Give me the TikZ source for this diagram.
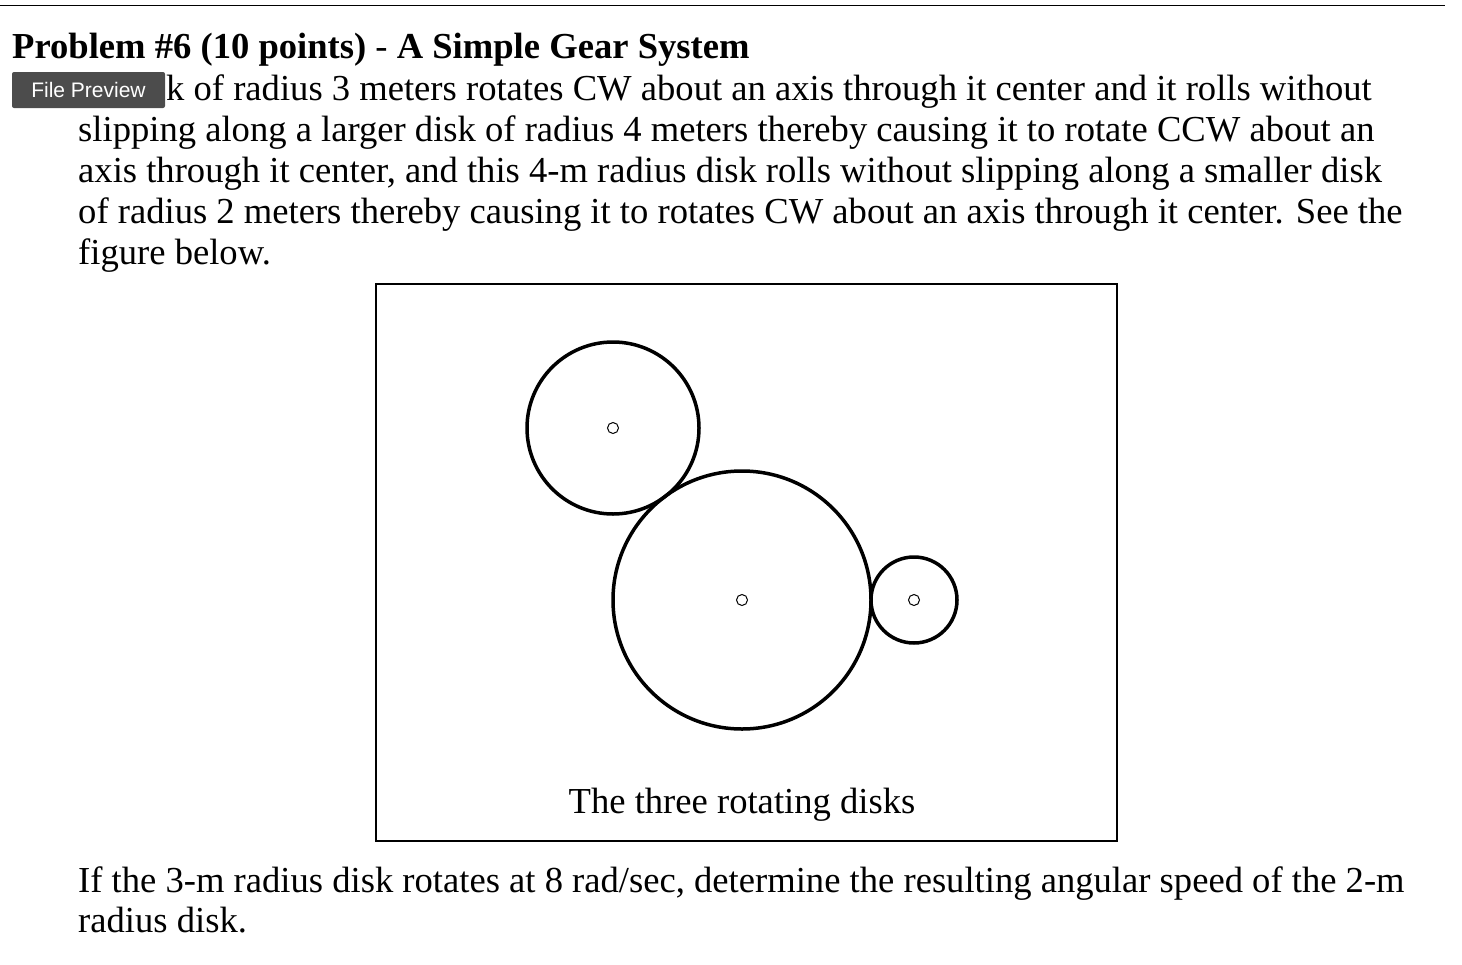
\documentclass[tikz,border=0pt]{standalone}
\usepackage{fontspec}
\setmainfont{Liberation Serif}
\newfontfamily\badgefont{Liberation Sans}
\begin{document}
\begin{tikzpicture}[x=1pt,y=-1pt,
  txt/.style={anchor=base west,inner sep=0pt,font=\fontsize{36.6}{40}\selectfont},
  disk/.style={draw,line width=3.5pt,circle},
  dot/.style={draw,line width=1pt,circle,minimum size=11pt,inner sep=0pt}]
\useasboundingbox (0,0) rectangle (1462,964);
\draw[line width=1pt] (0,5) -- (1445,5);
\node[txt,font=\fontsize{36.6}{40}\selectfont\bfseries] (t0) at (12,58) {Problem \#6 (10 points)\mdseries\ - \bfseries A Simple Gear System};
\node[txt] (t1) at (166,100) {k of radius 3 meters rotates CW about an axis through it center and it rolls without};
\node[txt] (t2) at (78,141) {slipping along a larger disk of radius 4 meters thereby causing it to rotate CCW about an};
\node[txt] (t3) at (78,182) {axis through it center, and this 4-m radius disk rolls without slipping along a smaller disk};
\node[txt] (t4) at (78,223) {of radius 2 meters thereby causing it to rotates CW about an axis through it center. See the};
\node[txt] (t5) at (78,264) {figure below.};
\node[fill=black!70,rounded corners=2pt,text=white,font=\badgefont\fontsize{21}{24}\selectfont,
  minimum width=153pt,minimum height=36pt,inner sep=0pt] (badge) at (88.5,90) {File Preview};
\node[draw,line width=1.5pt,minimum width=741pt,minimum height=557pt,inner sep=0pt] (frame) at (746.5,562.5) {};
\node[disk,minimum size=172pt] (d3) at (613,428) {};
\node[disk,minimum size=258pt] (d4) at (742,600) {};
\node[disk,minimum size=86pt] (d2) at (914,600) {};
\node[dot] (c3) at (d3.center) {};
\node[dot] (c4) at (d4.center) {};
\node[dot] (c2) at (d2.center) {};
\node[anchor=base,inner sep=0pt,font=\fontsize{36.6}{40}\selectfont] (cap) at (742,813) {The three rotating disks};
\node[txt] (b1) at (78,892) {If the 3-m radius disk rotates at 8 rad/sec, determine the resulting angular speed of the 2-m};
\node[txt] (b2) at (78,932) {radius disk.};
\end{tikzpicture}
\end{document}
